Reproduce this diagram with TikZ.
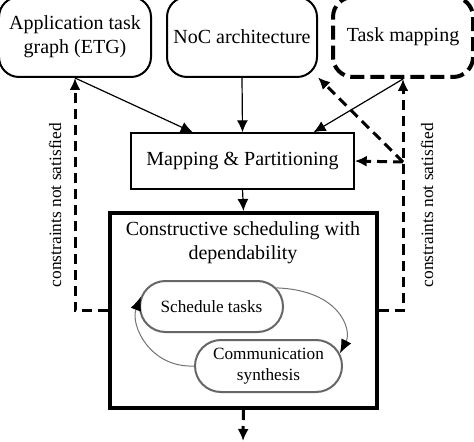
\documentclass[tikz,border=0pt]{standalone}
\usepackage{fontspec}
\setmainfont{Liberation Serif}[Ligatures=TeX]
\usetikzlibrary{arrows.meta,shapes.misc}

\begin{document}
\begin{tikzpicture}[x=0.5pt,y=-0.5pt,font=\rmfamily\fontsize{10}{12}\selectfont,
  topbox/.style={draw, line width=1pt, rounded corners=10pt, align=center, inner sep=0pt, minimum height=40pt},
  pill/.style={draw=black!60, line width=1pt, rounded rectangle, align=center, inner sep=0pt,
    font=\rmfamily\fontsize{8.6}{10.5}\selectfont},
  flow/.style={line width=0.6pt, -{Latex[length=6pt,width=5.5pt]}},
  fb/.style={line width=1.5pt, dash pattern=on 5pt off 3pt, -{Latex[length=6pt,width=5.5pt]}},
  loopline/.style={draw=black!55, line width=0.5pt, -{Latex[length=7pt,width=5.5pt,fill=black,color=black]}},
  note/.style={rotate=90, font=\rmfamily\fontsize{8.7}{10}\selectfont}]
\useasboundingbox (0,0) rectangle (474,442);
% inputs
\node (app) [topbox, minimum width=76pt] at (75,37) {Application task\\graph (ETG)};
\node (noc) [topbox, minimum width=75pt] at (242,37) {NoC architecture};
\node (tm) [topbox, minimum width=70pt, line width=2pt, dash pattern=on 7pt off 3pt] at (403,37) {Task mapping};
% mapping and scheduling
\node (mapp) [draw, line width=0.7pt, minimum width=111.5pt, minimum height=28pt, inner sep=0pt] at (242.5,161) {Mapping \& Partitioning};
\node (sched) [draw, line width=2pt, minimum width=133.5pt, minimum height=97.5pt, inner sep=0pt] at (243.5,310.5) {};
\node (ttl) [align=center] at (243,243) {Constructive scheduling with\\dependability};
\node (st) [pill, minimum width=71.5pt, minimum height=25.5pt] at (211.5,306.5) {Schedule tasks};
\node (cs) [pill, minimum width=73.5pt, minimum height=26pt] at (268.5,366) {Communication\\synthesis};
\coordinate (rj) at (403,162);
\coordinate (out) at (243,441);
% arrows
\draw[flow] (app.south) -- (mapp.150);
\draw[flow] (noc.south) -- (mapp.north);
\draw[flow] (tm.south) -- (mapp.22);
\draw[flow] (mapp.south) -- (sched.north);
\draw[fb] (sched.west) -| (app.south);
\draw[fb] (sched.east) -| (tm.south);
\draw[fb] (rj) -- (mapp.east);
\draw[fb] (rj) -- (noc.-28);
\draw[fb] (sched.south) -- (out);
\draw[loopline] (st.16) .. controls (340,290) and (352,330) .. (cs.10);
\draw[loopline] (cs.west) .. controls (150,368) and (130,325) .. (st.172);
% labels
\node (lnote) [note] at (55,205) {constraints not satisfied};
\node (rnote) [note] at (427,205) {constraints not satisfied};
\end{tikzpicture}
\end{document}
